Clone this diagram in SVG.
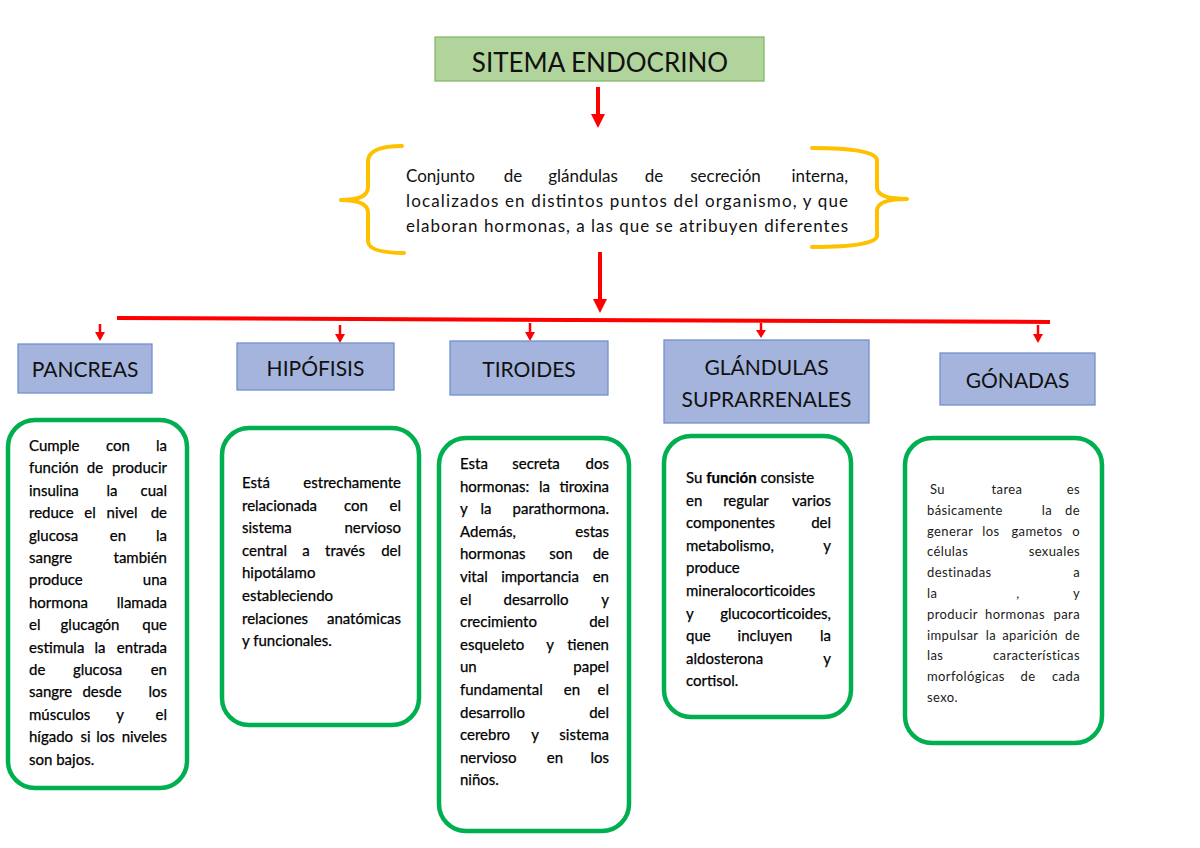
<svg xmlns="http://www.w3.org/2000/svg" width="1200" height="848" viewBox="0 0 1200 848">
<style>
.title{font-family:Lato,"Liberation Sans",sans-serif;font-size:26px;fill:#111;text-anchor:middle}
.blue{fill:#a5b4dd;stroke:#7190d0;stroke-width:1.3}
.bl{font-family:Lato,"Liberation Sans",sans-serif;font-size:21px;fill:#111;text-anchor:middle}
.gr{fill:#fff;stroke:#00b050;stroke-width:4.5}
.ct{font-family:Lato,"Liberation Sans",sans-serif;font-size:17px;fill:#111}
.bt{font-family:Lato,"Liberation Sans",sans-serif;font-size:15px;fill:#000;stroke:#000;stroke-width:0.25}
.b5{font-family:Lato,"Liberation Sans",sans-serif;font-size:13px;fill:#1a1a1a;letter-spacing:0.4px}
.m{text-anchor:middle}
.e{text-anchor:end}
.red{stroke:#ff0000;fill:none}
.rh{fill:#ff0000}
.brace{fill:none;stroke:#ffc000;stroke-width:4;stroke-linejoin:round;stroke-linecap:round}
</style>

<g id="connectors">
  <line class="red" x1="598" y1="87" x2="598" y2="116" stroke-width="4"/>
  <polygon class="rh" points="591,114 605,114 598,128"/>
  <line class="red" x1="600" y1="252" x2="600" y2="301" stroke-width="4"/>
  <polygon class="rh" points="593,299 607,299 600,313"/>
  <line class="red" x1="117" y1="318" x2="1050" y2="322" stroke-width="4"/>
  <line class="red" x1="100" y1="324" x2="100" y2="333" stroke-width="2.5"/>
  <polygon class="rh" points="95,332 105,332 100,341"/>
  <line class="red" x1="340" y1="325" x2="340" y2="335" stroke-width="2.5"/>
  <polygon class="rh" points="335,334 345,334 340,343"/>
  <line class="red" x1="530" y1="323" x2="530" y2="333" stroke-width="2.5"/>
  <polygon class="rh" points="525,332 535,332 530,341"/>
  <line class="red" x1="761" y1="323" x2="761" y2="331" stroke-width="2.5"/>
  <polygon class="rh" points="756,330 766,330 761,338"/>
  <line class="red" x1="1038" y1="325" x2="1038" y2="335" stroke-width="2.5"/>
  <polygon class="rh" points="1033,334 1043,334 1038,343"/>
</g>

<g id="title">
  <rect x="435" y="37" width="329" height="44" fill="#b1d49c" stroke="#86b96a" stroke-width="1.3"/>
  <text class="title" x="600" y="72">SITEMA ENDOCRINO</text>
</g>

<g id="definicion">
  <path class="brace" d="M402,146 Q370,146 368,160 L368,188 Q367,200 341,200 Q367,200 368,212 L368,242 Q370,253 404,253"/>
  <path class="brace" d="M812,148 Q876,148 877,160 L877,188 Q878,199 907,199 Q878,199 877,210 L877,236 Q876,247 812,247"/>
  <text class="ct" y="182"><tspan x="406">Conjunto</tspan><tspan x="513" class="m">de</tspan><tspan x="583" class="m">glándulas</tspan><tspan x="654" class="m">de</tspan><tspan x="725.5" class="m">secreción</tspan><tspan x="848" class="e">interna,</tspan></text>
  <text class="ct" x="406" y="207" textLength="442" lengthAdjust="spacing">localizados en distintos puntos del organismo, y que</text>
  <text class="ct" x="406" y="232" textLength="442" lengthAdjust="spacing">elaboran hormonas, a las que se atribuyen diferentes</text>
</g>

<g id="pancreas">
  <rect class="blue" x="18" y="344" width="134" height="49"/>
  <text class="bl" x="85" y="377">PANCREAS</text>
  <rect class="gr" x="8" y="420" width="179" height="368" rx="27"/>
  <text class="bt" y="451"><tspan x="29">Cumple</tspan><tspan x="118" class="m">con</tspan><tspan x="167" class="e">la</tspan></text>
  <text class="bt" y="473.4"><tspan x="29">función</tspan><tspan x="95" class="m">de</tspan><tspan x="167" class="e">producir</tspan></text>
  <text class="bt" y="495.8"><tspan x="29">insulina</tspan><tspan x="112" class="m">la</tspan><tspan x="167" class="e">cual</tspan></text>
  <text class="bt" y="518.2"><tspan x="29">reduce</tspan><tspan x="90" class="m">el</tspan><tspan x="122" class="m">nivel</tspan><tspan x="167" class="e">de</tspan></text>
  <text class="bt" y="540.6"><tspan x="29">glucosa</tspan><tspan x="118" class="m">en</tspan><tspan x="167" class="e">la</tspan></text>
  <text class="bt" y="563"><tspan x="29">sangre</tspan><tspan x="167" class="e">también</tspan></text>
  <text class="bt" y="585.4"><tspan x="29">produce</tspan><tspan x="167" class="e">una</tspan></text>
  <text class="bt" y="607.8"><tspan x="29">hormona</tspan><tspan x="167" class="e">llamada</tspan></text>
  <text class="bt" y="630.2"><tspan x="29">el</tspan><tspan x="90" class="m">glucagón</tspan><tspan x="167" class="e">que</tspan></text>
  <text class="bt" y="652.6"><tspan x="29">estimula</tspan><tspan x="100" class="m">la</tspan><tspan x="167" class="e">entrada</tspan></text>
  <text class="bt" y="675"><tspan x="29">de</tspan><tspan x="97.5" class="m">glucosa</tspan><tspan x="167" class="e">en</tspan></text>
  <text class="bt" y="697.4"><tspan x="29">sangre</tspan><tspan x="102" class="m">desde</tspan><tspan x="167" class="e">los</tspan></text>
  <text class="bt" y="719.8"><tspan x="29">músculos</tspan><tspan x="120" class="m">y</tspan><tspan x="167" class="e">el</tspan></text>
  <text class="bt" y="742.2"><tspan x="29">hígado</tspan><tspan x="85.5" class="m">si</tspan><tspan x="105.5" class="m">los</tspan><tspan x="167" class="e">niveles</tspan></text>
  <text class="bt" x="29" y="764.6">son bajos.</text>
</g>

<g id="hipofisis">
  <rect class="blue" x="237" y="343" width="157" height="47"/>
  <text class="bl" x="315.5" y="376">HIPÓFISIS</text>
  <rect class="gr" x="222" y="428" width="197" height="297" rx="27"/>
  <text class="bt" y="488"><tspan x="242">Está</tspan><tspan x="401" class="e">estrechamente</tspan></text>
  <text class="bt" y="510.6"><tspan x="242">relacionada</tspan><tspan x="356" class="m">con</tspan><tspan x="401" class="e">el</tspan></text>
  <text class="bt" y="533.2"><tspan x="242">sistema</tspan><tspan x="401" class="e">nervioso</tspan></text>
  <text class="bt" y="555.8"><tspan x="242">central</tspan><tspan x="306" class="m">a</tspan><tspan x="345" class="m">través</tspan><tspan x="401" class="e">del</tspan></text>
  <text class="bt" x="242" y="578.4">hipotálamo</text>
  <text class="bt" x="242" y="601">estableciendo</text>
  <text class="bt" y="623.6"><tspan x="242">relaciones</tspan><tspan x="401" class="e">anatómicas</tspan></text>
  <text class="bt" x="242" y="646.2">y funcionales.</text>
</g>

<g id="tiroides">
  <rect class="blue" x="450" y="341" width="158" height="54"/>
  <text class="bl" x="529" y="377">TIROIDES</text>
  <rect class="gr" x="439" y="438" width="190" height="393" rx="27"/>
  <text class="bt" y="469"><tspan x="460">Esta</tspan><tspan x="536" class="m">secreta</tspan><tspan x="609" class="e">dos</tspan></text>
  <text class="bt" y="491.6"><tspan x="460">hormonas:</tspan><tspan x="544.5" class="m">la</tspan><tspan x="609" class="e">tiroxina</tspan></text>
  <text class="bt" y="514.2"><tspan x="460">y</tspan><tspan x="486" class="m">la</tspan><tspan x="609" class="e">parathormona.</tspan></text>
  <text class="bt" y="536.8"><tspan x="460">Además,</tspan><tspan x="609" class="e">estas</tspan></text>
  <text class="bt" y="559.4"><tspan x="460">hormonas</tspan><tspan x="561" class="m">son</tspan><tspan x="609" class="e">de</tspan></text>
  <text class="bt" y="582"><tspan x="460">vital</tspan><tspan x="540" class="m">importancia</tspan><tspan x="609" class="e">en</tspan></text>
  <text class="bt" y="604.6"><tspan x="460">el</tspan><tspan x="536" class="m">desarrollo</tspan><tspan x="609" class="e">y</tspan></text>
  <text class="bt" y="627.2"><tspan x="460">crecimiento</tspan><tspan x="609" class="e">del</tspan></text>
  <text class="bt" y="649.8"><tspan x="460">esqueleto</tspan><tspan x="550" class="m">y</tspan><tspan x="609" class="e">tienen</tspan></text>
  <text class="bt" y="672.4"><tspan x="460">un</tspan><tspan x="609" class="e">papel</tspan></text>
  <text class="bt" y="695"><tspan x="460">fundamental</tspan><tspan x="572" class="m">en</tspan><tspan x="609" class="e">el</tspan></text>
  <text class="bt" y="717.6"><tspan x="460">desarrollo</tspan><tspan x="609" class="e">del</tspan></text>
  <text class="bt" y="740.2"><tspan x="460">cerebro</tspan><tspan x="535" class="m">y</tspan><tspan x="609" class="e">sistema</tspan></text>
  <text class="bt" y="762.8"><tspan x="460">nervioso</tspan><tspan x="555" class="m">en</tspan><tspan x="609" class="e">los</tspan></text>
  <text class="bt" x="460" y="785.4">niños.</text>
</g>

<g id="suprarrenales">
  <rect class="blue" x="664" y="340" width="205" height="83"/>
  <text class="bl" x="766.5" y="375">GLÁNDULAS</text>
  <text class="bl" x="766.5" y="407">SUPRARRENALES</text>
  <rect class="gr" x="664" y="436" width="187" height="281" rx="27"/>
  <text class="bt" x="686" y="483">Su <tspan font-weight="700">función</tspan> consiste</text>
  <text class="bt" y="505.6"><tspan x="686">en</tspan><tspan x="746" class="m">regular</tspan><tspan x="831" class="e">varios</tspan></text>
  <text class="bt" y="528.2"><tspan x="686">componentes</tspan><tspan x="831" class="e">del</tspan></text>
  <text class="bt" y="550.8"><tspan x="686">metabolismo,</tspan><tspan x="831" class="e">y</tspan></text>
  <text class="bt" x="686" y="573.4">produce</text>
  <text class="bt" x="686" y="596">mineralocorticoides</text>
  <text class="bt" y="618.6"><tspan x="686">y</tspan><tspan x="831" class="e">glucocorticoides,</tspan></text>
  <text class="bt" y="641.2"><tspan x="686">que</tspan><tspan x="765" class="m">incluyen</tspan><tspan x="831" class="e">la</tspan></text>
  <text class="bt" y="663.8"><tspan x="686">aldosterona</tspan><tspan x="831" class="e">y</tspan></text>
  <text class="bt" x="686" y="686.4">cortisol.</text>
</g>

<g id="gonadas">
  <rect class="blue" x="940" y="353" width="155" height="52"/>
  <text class="bl" x="1017.5" y="388">GÓNADAS</text>
  <rect class="gr" x="905" y="438" width="197" height="305" rx="27"/>
  <text class="b5" y="494"><tspan x="930">Su</tspan><tspan x="1007" class="m">tarea</tspan><tspan x="1080" class="e">es</tspan></text>
  <text class="b5" y="514.8"><tspan x="927">básicamente</tspan><tspan x="1047" class="m">la</tspan><tspan x="1080" class="e">de</tspan></text>
  <text class="b5" y="535.6"><tspan x="927">generar</tspan><tspan x="991" class="m">los</tspan><tspan x="1037" class="m">gametos</tspan><tspan x="1080" class="e">o</tspan></text>
  <text class="b5" y="556.4"><tspan x="927">células</tspan><tspan x="1080" class="e">sexuales</tspan></text>
  <text class="b5" y="577.2"><tspan x="927">destinadas</tspan><tspan x="1080" class="e">a</tspan></text>
  <text class="b5" y="598"><tspan x="927">la</tspan><tspan x="1018" class="m">,</tspan><tspan x="1080" class="e">y</tspan></text>
  <text class="b5" y="618.8"><tspan x="927">producir</tspan><tspan x="1015" class="m">hormonas</tspan><tspan x="1080" class="e">para</tspan></text>
  <text class="b5" y="639.6"><tspan x="927">impulsar</tspan><tspan x="991" class="m">la</tspan><tspan x="1030" class="m">aparición</tspan><tspan x="1080" class="e">de</tspan></text>
  <text class="b5" y="660.4"><tspan x="927">las</tspan><tspan x="1080" class="e">características</tspan></text>
  <text class="b5" y="681.2"><tspan x="927">morfológicas</tspan><tspan x="1028" class="m">de</tspan><tspan x="1080" class="e">cada</tspan></text>
  <text class="b5" x="927" y="702">sexo.</text>
</g>
</svg>
